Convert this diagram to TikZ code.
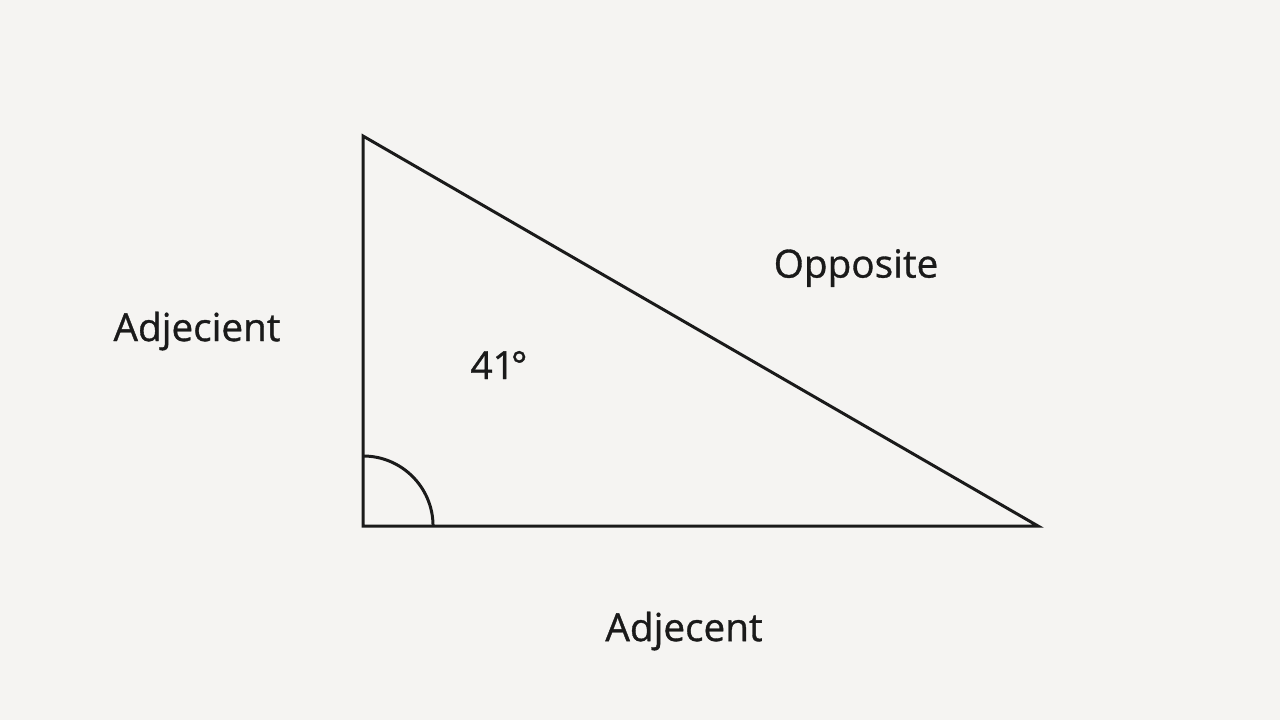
\documentclass[tikz,border=0pt]{standalone}
\usepackage{fontspec}
\setmainfont{Open Sans}
\newfontfamily\lblfont{Open Sans}[FakeBold=0.9]
\usetikzlibrary{positioning}
\definecolor{paper}{HTML}{F5F4F2}
\definecolor{ink}{HTML}{1A1A1A}

\begin{document}
\begin{tikzpicture}[x=0.01cm,y=-0.01cm,
  side/.style={draw=ink,line width=0.85pt,line join=miter},
  lbl/.style={text=ink,font=\lblfont\fontsize{11pt}{13pt}\selectfont,inner sep=0pt}]
  % background and page size
  \fill[paper] (0,0) rectangle (1280,720);
  \useasboundingbox (0,0) rectangle (1280,720);

  \coordinate (top) at (363,136);
  \coordinate (corner) at (363,526);
  \coordinate (right) at (1038,526);

  \draw[side] (top) -- (corner) -- (right) -- cycle;
  % right-angle mark
  \draw[side] ([xshift=0.7cm]corner) arc (0:90:0.7cm);

  \node[lbl] (opp) at (856,268) {Opposite};
  \node[lbl] (adjleft) at (197,331) {Adjecient};
  \node[lbl] (angle) at (499,365) {41\kern-0.1em°};
  \node[lbl] (adjbottom) at (684,631) {Adjecent};
\end{tikzpicture}
\end{document}
